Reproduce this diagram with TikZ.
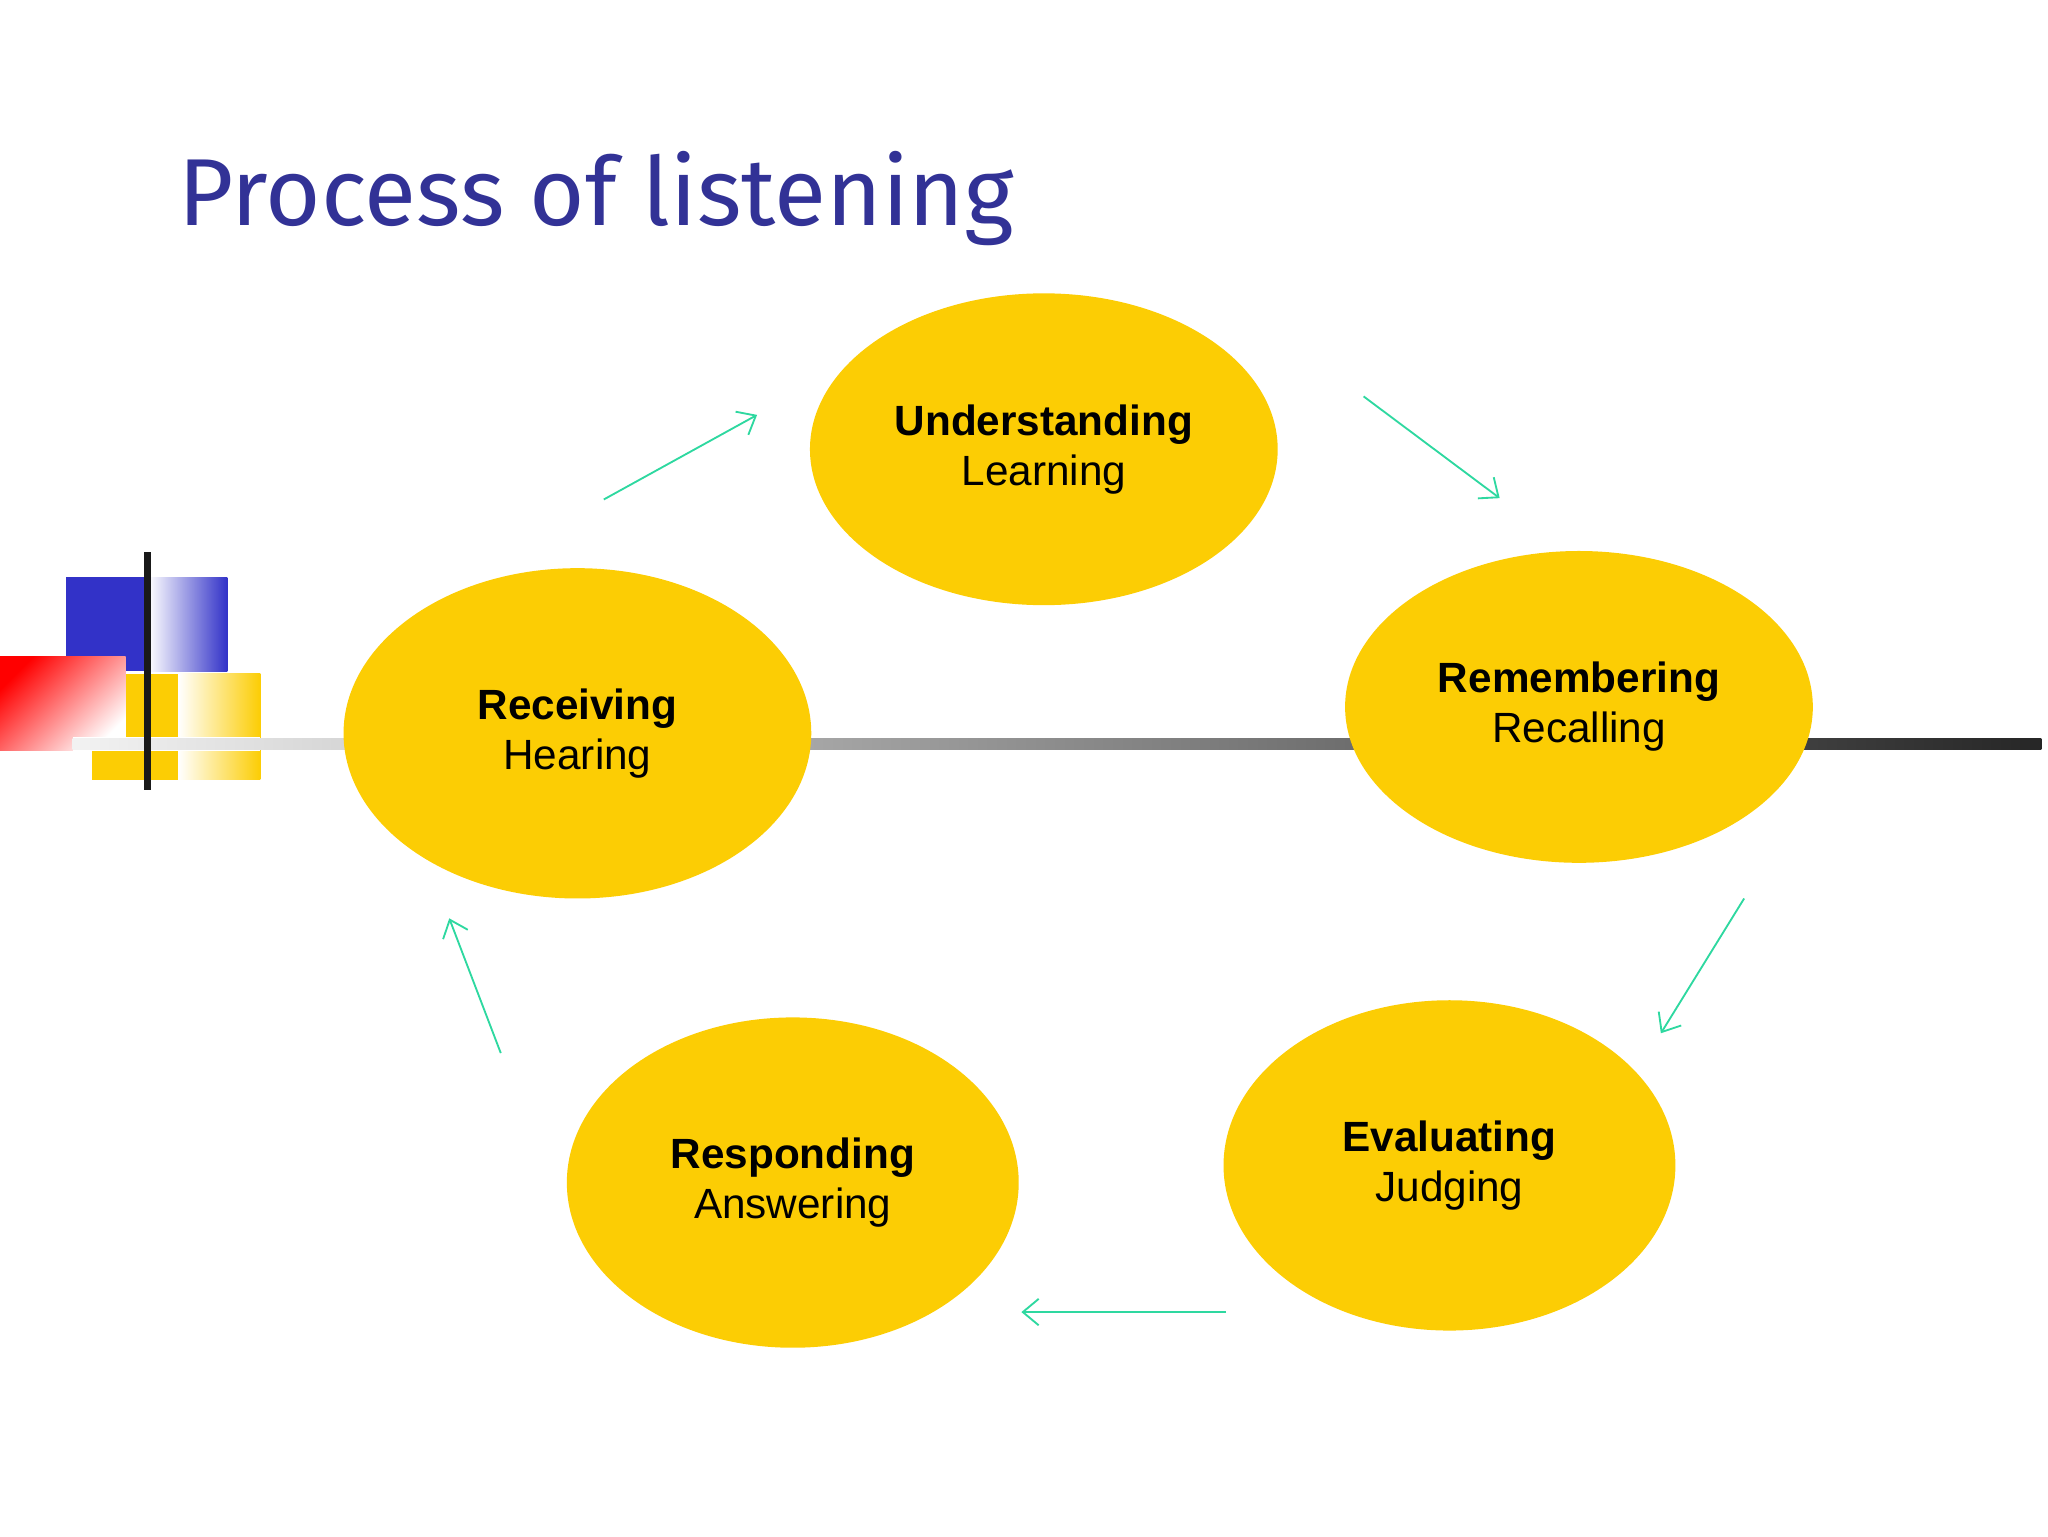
\documentclass[tikz,border=0pt]{standalone}
\usepackage{fontspec}
\setmainfont{Liberation Sans}
\newfontfamily\titlefont{Fira Sans}
\usetikzlibrary{arrows.meta,positioning,shapes.geometric}
\definecolor{stepyellow}{RGB}{252,205,4}
\definecolor{flowgreen}{RGB}{46,216,160}
\definecolor{titleblue}{RGB}{50,50,150}
\definecolor{decoblue}{RGB}{50,50,200}
\tikzset{
  stage/.style={ellipse, fill=stepyellow, align=center, inner sep=0pt, font=\fontsize{16}{19}\selectfont},
  flow/.style={draw=flowgreen, line width=0.7pt, -{Straight Barb[length=6pt,width=10pt]}}
}
\begin{document}
\begin{tikzpicture}[x=0.5pt,y=-0.5pt]
          \useasboundingbox (0,0) rectangle (1550,1162.5);

          % decoration
          \fill[decoblue] (50,437) rectangle (112,508);
          \shade[left color=white, right color=decoblue] (112,437) rectangle (172,508);
          \fill[stepyellow] (70,510) rectangle (135,590);
          \shade[left color=white, right color=stepyellow] (135,510) rectangle (197,590);
          \shade[left color=red, right color=white, shading angle=45] (0,497) rectangle (95,568);
          \fill[white] (55,558) rectangle (197,568);
          \shade[left color=gray!10, right color=black!85] (55,559) rectangle (1545,567);
          \fill[black!90] (109,418) rectangle (114,598);

          % title
          \node[anchor=west, text=titleblue, font=\titlefont\fontsize{36}{42}\selectfont] (title) at (128,150) {Process of listening};

          % stages
          \node[stage, minimum width=177pt, minimum height=118pt] (underst) at (790,340) {\textbf{Understanding}\\Learning};
          \node[stage, minimum width=177pt, minimum height=125pt] (receiv) at (437,555) {\textbf{Receiving}\\Hearing};
          \node[stage, minimum width=177pt, minimum height=118pt] (rememb) at (1195,535) {\textbf{Remembering}\\Recalling};
          \node[stage, minimum width=171pt, minimum height=125pt] (evalua) at (1097,882) {\textbf{Evaluating}\\Judging};
          \node[stage, minimum width=171pt, minimum height=125pt] (respond) at (600,895) {\textbf{Responding}\\Answering};

          % arrow ends
          \coordinate (a1) at (457,378);
          \coordinate (b1) at (573,314);
          \coordinate (a2) at (1032,300);
          \coordinate (b2) at (1135,377);
          \coordinate (a3) at (1320,680);
          \coordinate (b3) at (1257,782);
          \coordinate (a4) at (928,993);
          \coordinate (b4) at (773,993);
          \coordinate (a5) at (379,797);
          \coordinate (b5) at (340,695);

          \draw[flow] (a1) -- (b1);
          \draw[flow] (a2) -- (b2);
          \draw[flow] (a3) -- (b3);
          \draw[flow] (a4) -- (b4);
          \draw[flow] (a5) -- (b5);
        \end{tikzpicture}
\end{document}
